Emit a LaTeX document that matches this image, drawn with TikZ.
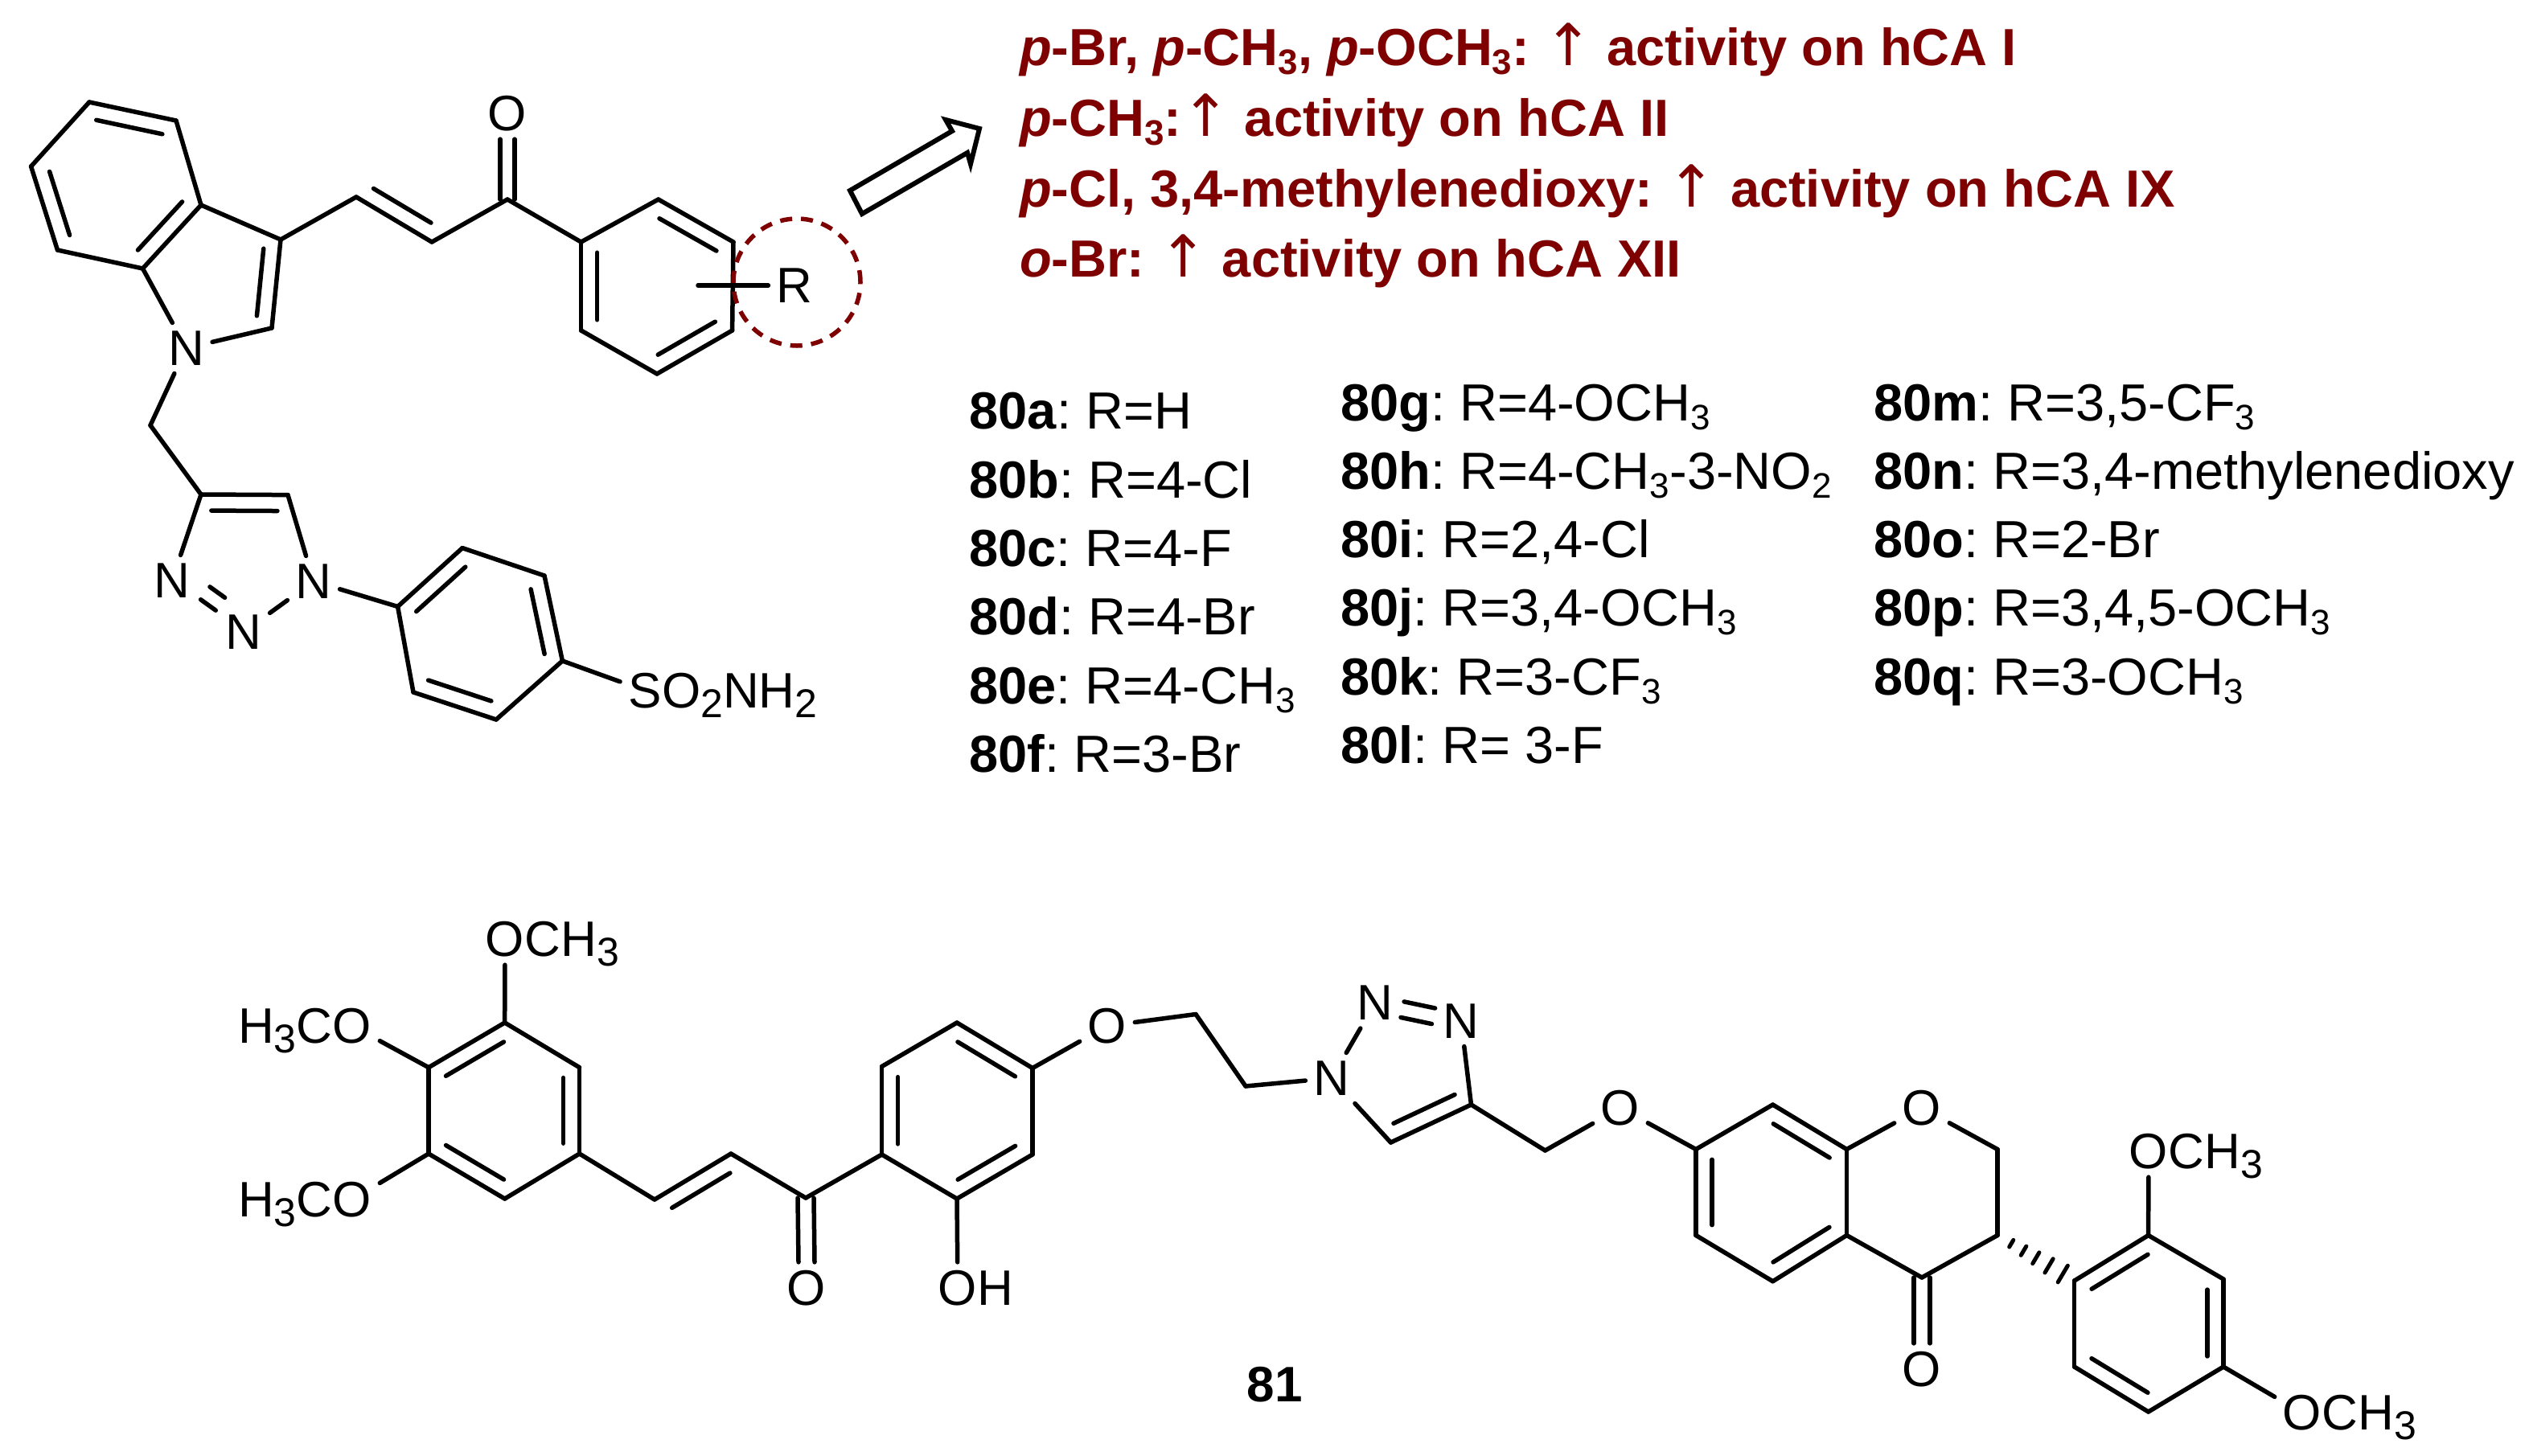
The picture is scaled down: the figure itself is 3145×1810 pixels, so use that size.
\documentclass[tikz,border=0pt]{standalone}
\usepackage{fontspec}
\setmainfont{Liberation Sans}
\newfontfamily\arrowfont{DejaVu Sans}
\usetikzlibrary{calc}
\definecolor{darkred}{HTML}{7F0000}
\newcommand\ssb[1]{\raisebox{-11pt}{\fontsize{44}{44}\selectfont #1}}
\newcommand\ssc[1]{\raisebox{-12pt}{\fontsize{50}{50}\selectfont #1}}
\newcommand\upar{{\fontsize{72}{72}\selectfont\arrowfont\mdseries\upshape ↑}}
\tikzset{
  bond/.style={line width=5.5pt,line cap=round,line join=round,black},
  lab/.style={font=\fontsize{62}{62}\selectfont,inner sep=10pt,text=black},
  labx/.style={font=\fontsize{62}{62}\selectfont,inner sep=0pt,text=black},
  entry/.style={font=\fontsize{65}{65}\selectfont\frenchspacing,inner sep=0pt,anchor=base west,text=black},
  redline/.style={font=\fontsize{65}{65}\selectfont\bfseries\frenchspacing,inner sep=0pt,anchor=base west,text=darkred},
  zone/.style={line width=5.5pt,darkred,dash pattern=on 15pt off 11pt},
  blockarrow/.style={line width=6pt,black,fill=white,miter limit=10}
}
% inner line of a double bond, on the right-hand side of a->b on screen
\newcommand\dbl[3][.12]{\draw[bond] ($(#2)!#1!(#3)!20pt!-90:(#3)$) -- ($(#3)!#1!(#2)!20pt!90:(#2)$);}
\newcommand\pts[1]{\foreach \n/\x/\y in {#1}{\coordinate (\n) at (\x,\y);}}
\newcommand\chain[1]{\foreach \u/\v in {#1}{\draw[bond] (\u) -- (\v);}}
\begin{document}
\begin{tikzpicture}[x=1pt,y=-1pt]
\useasboundingbox (0,0) rectangle (3145,1810);
\fill[white] (0,0) rectangle (3145,1810);

% ---------- compound 80 ----------
\pts{a1/111/127,a2/219/150,a3/250/255,a4/177.5/334,a5/71.5/311,a6/38.6/207,
     c3/349/298,c2/338/408,ch/187/529,t4/250/615,t5/358/615.6,
     q1/494.6/754.5,q2/575/681.6,q3/677/716,q4/699.4/822,q5/617/895,q6/514/861,
     v1/443/245,v2/537/301,co/631/248,
     p1/722.6/301,p2/818.7/248,p3/912/301,p4/910.6/411,p5/817/465,p6/722.6/411,
     rfree/868/355}
\node[lab] (N1) at (231.5,433) {N};
\node[lab] (Na) at (214,722) {N};
\node[lab] (Nb) at (303,786) {N};
\node[lab] (Nc) at (390,723) {N};
\node[lab] (O1) at (631,141) {O};
\node[lab] (R) at (988,355) {R};
\node[lab] (S) at (802,859) {S};
\node[labx,anchor=base west] (so) at ([xshift=-10pt]S.base east) {O\ssc{2}NH\ssc{2}};

\chain{a1/a2,a2/a3,a3/a4,a4/a5,a5/a6,a6/a1,a3/c3,c3/c2,c2/N1,N1/a4,N1/ch,ch/t4,
       t4/t5,t4/Na,t5/Nc,Nb/Nc,Nc/q1,q1/q2,q2/q3,q3/q4,q4/q5,q5/q6,q6/q1,q4/S,
       c3/v1,v1/v2,v2/co,co/p1,p1/p2,p2/p3,p3/p4,p4/p5,p5/p6,p6/p1,rfree/R}
\dbl{a1}{a2}\dbl{a3}{a4}\dbl{a5}{a6}\dbl{c3}{c2}\dbl{v2}{v1}
\dbl{p2}{p3}\dbl{p4}{p5}\dbl{p6}{p1}\dbl{t4}{t5}\dbl{q1}{q2}\dbl{q3}{q4}\dbl{q5}{q6}
\draw[bond] ([xshift=-9pt]co) -- ([xshift=-9pt]O1.south);
\draw[bond] ([xshift=9pt]co) -- ([xshift=9pt]O1.south);
\draw[bond] ($(Na)!.39!(Nb)!21pt!90:(Nb)$) -- ($(Na)!.60!(Nb)!21pt!90:(Nb)$);
\draw[bond] ($(Na)!.39!(Nb)!1.5pt!90:(Nb)$) -- ($(Na)!.60!(Nb)!1.5pt!90:(Nb)$);

\draw[zone] (991,351) circle[radius=79pt];
\draw[blockarrow] (1176,149) -- (1218,160) -- (1207,204) -- (1203,190) -- (1072,266)
   -- (1057,237) -- (1184,163) -- cycle;

% ---------- activity notes ----------
\node[redline] (n1) at (1268,81) {\textit{p}-Br, \textit{p}-CH\ssb{3}, \textit{p}-OCH\ssb{3}: \upar{} activity on hCA I};
\node[redline] (n2) at (1268,169) {\textit{p}-CH\ssb{3}:\upar{} activity on hCA II};
\node[redline] (n3) at (1268,257) {\textit{p}-Cl, 3,4-methylenedioxy: \upar{} activity on hCA IX};
\node[redline] (n4) at (1268,344) {\textit{o}-Br: \upar{} activity on hCA XII};

% ---------- table ----------
\node[entry] (e1) at (1205,533) {\textbf{80a}: R=H};
\node[entry] (e2) at (1205,619) {\textbf{80b}: R=4-Cl};
\node[entry] (e3) at (1205,704) {\textbf{80c}: R=4-F};
\node[entry] (e4) at (1205,789) {\textbf{80d}: R=4-Br};
\node[entry] (e5) at (1205,875) {\textbf{80e}: R=4-CH\ssb{3}};
\node[entry] (e6) at (1205,960) {\textbf{80f}: R=3-Br};
\node[entry] (f1) at (1667,523) {\textbf{80g}: R=4-OCH\ssb{3}};
\node[entry] (f2) at (1667,608) {\textbf{80h}: R=4-CH\ssb{3}-3-NO\ssb{2}};
\node[entry] (f3) at (1667,693) {\textbf{80i}: R=2,4-Cl};
\node[entry] (f4) at (1667,778) {\textbf{80j}: R=3,4-OCH\ssb{3}};
\node[entry] (f5) at (1667,864) {\textbf{80k}: R=3-CF\ssb{3}};
\node[entry] (f6) at (1667,949) {\textbf{80l}: R= 3-F};
\node[entry] (g1) at (2330,523) {\textbf{80m}: R=3,5-CF\ssb{3}};
\node[entry] (g2) at (2330,608) {\textbf{80n}: R=3,4-methylenedioxy};
\node[entry] (g3) at (2330,693) {\textbf{80o}: R=2-Br};
\node[entry] (g4) at (2330,778) {\textbf{80p}: R=3,4,5-OCH\ssb{3}};
\node[entry] (g5) at (2330,864) {\textbf{80q}: R=3-OCH\ssb{3}};

% ---------- compound 81 ----------
\pts{A1/627.7/1272,A2/720.6/1327.7,A3/720.6/1435,A4/627.7/1491,A5/533/1435,A6/533/1327.7,
     w1/814/1492,w2/909/1435,w3/1002/1490,
     b1/1190/1272,b2/1284/1328.5,b3/1284/1436,b4/1190/1491,b5/1096.6/1436,b6/1096.6/1326.5,
     e7/1487/1261.5,e8/1549/1351,
     c5/1729.5/1421,c4/1829.5/1374,m1/1921.5/1431,
     r1/2109/1429.5,r2/2204.6/1374,r3/2296.5/1429.5,r4/2296.5/1536.5,r5/2204.6/1593.7,r6/2109/1536.5,
     k1/2484/1429.5,k2/2484/1536.5,k3/2390/1589,
     d1/2579.6/1593,d2/2671.6/1536.5,d3/2765/1591,d4/2765/1700,d5/2671.6/1756,d6/2579.6/1700}
\node[lab] (Ot) at (628,1168) {O};
\node[labx,anchor=base west] (otx) at ([xshift=-10pt]Ot.base east) {CH\ssc{3}};
\node[lab] (Ou) at (438,1276) {O};
\node[labx,anchor=base east] (oux) at ([xshift=10pt]Ou.base west) {H\ssc{3}C};
\node[lab] (Ol) at (438,1492) {O};
\node[labx,anchor=base east] (olx) at ([xshift=10pt]Ol.base west) {H\ssc{3}C};
\node[lab] (Oc) at (1003,1602) {O};
\node[lab] (Oh) at (1191,1602) {O};
\node[labx,anchor=base west] (ohx) at ([xshift=-10pt]Oh.base east) {H};
\node[lab] (Oe) at (1377,1276) {O};
\node[lab] (Ma) at (1656,1341) {N};
\node[lab] (Mb) at (1710,1247.5) {N};
\node[lab] (Mc) at (1817,1270) {N};
\node[lab] (Of) at (2015,1378) {O};
\node[lab] (Or) at (2390,1378) {O};
\node[lab] (Ok) at (2390,1703) {O};
\node[lab] (Od) at (2672,1432) {O};
\node[labx,anchor=base west] (odx) at ([xshift=-10pt]Od.base east) {CH\ssc{3}};
\node[lab] (Og) at (2863,1757.5) {O};
\node[labx,anchor=base west] (ogx) at ([xshift=-10pt]Og.base east) {CH\ssc{3}};
\node[font=\fontsize{62}{62}\selectfont\bfseries,inner sep=0pt,anchor=base] (lab81) at (1585,1743) {81};

\chain{A1/A2,A2/A3,A3/A4,A4/A5,A5/A6,A6/A1,A1/Ot,A6/Ou,A5/Ol,A3/w1,w1/w2,w2/w3,w3/b5,
       b1/b2,b2/b3,b3/b4,b4/b5,b5/b6,b6/b1,b4/Oh,b2/Oe,Oe/e7,e7/e8,e8/Ma,
       Ma/Mb,Ma/c5,c5/c4,c4/Mc,c4/m1,m1/Of,Of/r1,
       r1/r2,r2/r3,r3/r4,r4/r5,r5/r6,r6/r1,r3/Or,Or/k1,k1/k2,k2/k3,k3/r4,
       d1/d2,d2/d3,d3/d4,d4/d5,d5/d6,d6/d1,d2/Od,d4/Og}
\dbl{A6}{A1}\dbl{A2}{A3}\dbl{A4}{A5}\dbl{w1}{w2}
\dbl{b1}{b2}\dbl{b3}{b4}\dbl{b5}{b6}\dbl{c4}{c5}
\dbl{r2}{r3}\dbl{r4}{r5}\dbl{r6}{r1}
\dbl{d1}{d2}\dbl{d3}{d4}\dbl{d5}{d6}
\draw[bond] ([xshift=-10pt]w3) -- ([xshift=-10pt]Oc.north);
\draw[bond] ([xshift=10pt]w3) -- ([xshift=10pt]Oc.north);
\draw[bond] ([xshift=-10pt]k3) -- ([xshift=-10pt]Ok.north);
\draw[bond] ([xshift=10pt]k3) -- ([xshift=10pt]Ok.north);
\draw[bond] ($(Mb)!.32!(Mc)!9pt!90:(Mc)$) -- ($(Mb)!.68!(Mc)!9pt!90:(Mc)$);
\draw[bond] ($(Mb)!.32!(Mc)!-11pt!90:(Mc)$) -- ($(Mb)!.68!(Mc)!-11pt!90:(Mc)$);
\foreach \t/\h in {.18/5,.34/6.5,.5/8,.67/10,.85/12}
  \draw[bond,line width=5pt] ($(k2)!\t!(d1)!\h pt!90:(d1)$) -- ($(k2)!\t!(d1)!-\h pt!90:(d1)$);
\end{tikzpicture}
\end{document}
